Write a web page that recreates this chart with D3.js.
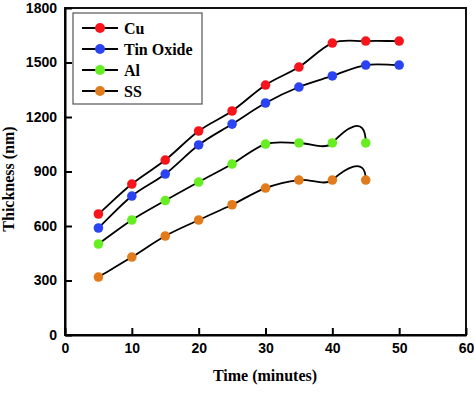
<!DOCTYPE html>
<html>
<head>
<meta charset="utf-8">
<script src="https://cdn.jsdelivr.net/npm/d3@7"></script>
<style>
  body { margin: 0; background: #fff; }
  svg { display: block; }
</style>
</head>
<body>
<div id="chart"></div>
<script>
const width = 474;
const height = 399;

// values
const times = [5, 10, 15, 20, 25, 30, 35, 40, 45, 50];
const cu = [666, 831, 963, 1123, 1233, 1376, 1475, 1607, 1618, 1618];
const tinOxide = [589, 765, 886, 1046, 1161, 1277, 1365, 1426, 1486, 1486];
const al = [501, 633, 740, 842, 941, 1051, 1057, 1057, 1057];
const ss = [319, 429, 545, 633, 717, 809, 853, 853, 853];
const seriesNames = ["Cu", "Tin Oxide", "Al", "SS"];
const seriesValues = [cu, tinOxide, al, ss];
const seriesColors = ["#f7141b", "#2b44f3", "#66ee22", "#e27b1b"];
// top of the spline overshoot on the last segment (Al, SS)
const endPeaks = [null, null, 1145, 925];
const xTicks = [0, 10, 20, 30, 40, 50, 60];
const yTicks = [0, 300, 600, 900, 1200, 1500, 1800];

const x = d3.scaleLinear().domain([0, 60]).range([65, 466]);
const y = d3.scaleLinear().domain([0, 1800]).range([335, 8]);

const svg = d3.select("#chart").append("svg")
    .attr("width", width)
    .attr("height", height)
    .attr("viewBox", [0, 0, width, height]);

// frame
svg.append("rect")
    .attr("x", x(0))
    .attr("y", y(1800))
    .attr("width", x(60) - x(0))
    .attr("height", y(0) - y(1800))
    .attr("fill", "none")
    .attr("stroke", "#111")
    .attr("stroke-width", 2);

const tickFont = g => g
    .attr("font-family", "'Liberation Sans', Arial, sans-serif")
    .attr("font-weight", "bold")
    .attr("font-size", 14);

svg.append("g")
    .attr("transform", `translate(0,${y(0)})`)
    .call(d3.axisBottom(x).tickValues(xTicks).tickFormat(d3.format("d"))
        .tickSize(-7).tickSizeOuter(0).tickPadding(8))
    .call(tickFont)
    .call(g => g.selectAll("path, line").attr("stroke", "#000").attr("stroke-width", 2))
    .call(g => g.selectAll("text").attr("fill", "#000"));

svg.append("g")
    .attr("transform", `translate(${x(0)},0)`)
    .call(d3.axisLeft(y).tickValues(yTicks).tickFormat(d3.format("d"))
        .tickSize(-7).tickSizeOuter(0).tickPadding(8))
    .call(tickFont)
    .call(g => g.selectAll("path, line").attr("stroke", "#000").attr("stroke-width", 2))
    .call(g => g.selectAll("text").attr("fill", "#000"));

// smooth spline through the points, with the overshoot at the end
function splinePath(pts, peak) {
    const n = pts.length;
    const m = pts.map((p, i) => {
        const a = pts[Math.max(i - 1, 0)], b = pts[Math.min(i + 1, n - 1)];
        const s = (i === 0 || i === n - 1) ? 1 : 0.5;
        return [(b[0] - a[0]) * s, (b[1] - a[1]) * s];
    });
    const mOut = m.slice(), mIn = m.slice();
    if (peak != null) {
        const a = pts[n - 2], b = pts[n - 1];
        const dx = b[0] - a[0], h = a[1] - peak;
        mOut[n - 2] = [1.05 * dx, -2.4 * h];
        mIn[n - 2] = [0.7 * dx, -1.4 * h];
        mIn[n - 1] = [0, 5.8 * h];
    }
    const path = d3.path();
    path.moveTo(pts[0][0], pts[0][1]);
    for (let i = 0; i < n - 1; i++) {
        const p = pts[i], q = pts[i + 1];
        path.bezierCurveTo(
            p[0] + mOut[i][0] / 3, p[1] + mOut[i][1] / 3,
            q[0] - mIn[i + 1][0] / 3, q[1] - mIn[i + 1][1] / 3,
            q[0], q[1]);
    }
    return path.toString();
}

const series = seriesNames.map((name, i) => ({
    name,
    color: seriesColors[i],
    peak: endPeaks[i],
    points: seriesValues[i].map((v, j) => ({ t: times[j], v }))
}));

const lines = svg.append("g");

lines.selectAll("path")
    .data(series)
    .join("path")
    .attr("fill", "none")
    .attr("stroke", "#000")
    .attr("stroke-width", 1.8)
    .attr("d", d => splinePath(d.points.map(p => [x(p.t), y(p.v)]), d.peak == null ? null : y(d.peak)));

series.forEach(s => {
    lines.append("g")
        .selectAll("circle")
        .data(s.points)
        .join("circle")
        .attr("cx", d => x(d.t))
        .attr("cy", d => y(d.v))
        .attr("r", 4.8)
        .attr("fill", s.color);
});

// legend
const legend = svg.append("g").attr("transform", "translate(73,13)");

legend.append("rect")
    .attr("width", 129)
    .attr("height", 91)
    .attr("fill", "#fff")
    .attr("stroke", "#555")
    .attr("stroke-width", 1.2);

const item = legend.selectAll("g")
    .data(series)
    .join("g")
    .attr("transform", (d, i) => `translate(0,${15 + i * 21})`);

item.append("line")
    .attr("x1", 9)
    .attr("x2", 45)
    .attr("stroke", "#000")
    .attr("stroke-width", 1.8);

item.append("circle")
    .attr("cx", 27)
    .attr("r", 5)
    .attr("fill", d => d.color);

item.append("text")
    .attr("x", 51)
    .attr("dy", "0.35em")
    .attr("font-family", "'Liberation Serif', 'Times New Roman', serif")
    .attr("font-weight", "bold")
    .attr("font-size", 16)
    .attr("fill", "#000")
    .text(d => d.name);

// axis titles
svg.append("text")
    .attr("x", 265)
    .attr("y", 381)
    .attr("text-anchor", "middle")
    .attr("font-family", "'Liberation Serif', 'Times New Roman', serif")
    .attr("font-weight", "bold")
    .attr("font-size", 16)
    .attr("fill", "#000")
    .text("Time (minutes)");

svg.append("text")
    .attr("transform", "translate(14,179) rotate(-90)")
    .attr("text-anchor", "middle")
    .attr("font-family", "'Liberation Serif', 'Times New Roman', serif")
    .attr("font-weight", "bold")
    .attr("font-size", 16)
    .attr("fill", "#000")
    .text("Thickness (nm)");
</script>
</body>
</html>
